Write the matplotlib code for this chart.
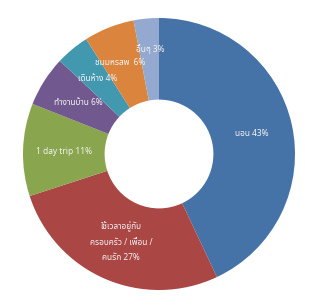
import matplotlib
matplotlib.use("Agg")
import matplotlib.pyplot as plt

categories = ["นอน", "ใช้เวลาอยู่กับ\nครอบครัว / เพื่อน /\nคนรัก", "1 day trip",
              "ทำงานบ้าน", "เดินห้าง", "ชมมหรสพ ", "อื่นๆ"]
values = [43, 27, 11, 6, 4, 6, 3]
colors = ["#4572A7", "#AA4643", "#89A54E", "#71588F", "#4198AF", "#DB843D", "#93A9CF"]

labels = [f"{c} {v}%" for c, v in zip(categories, values)]

# label nudges (pixels, right / up) to mimic the reference's collision avoidance
nudges = {4: (-1, 2), 5: (-4, 3), 6: (0, 10)}

fig = plt.figure(figsize=(3.26, 3.06), dpi=100)
W, H = 326, 306
cx, cy, R = 159, 154, 136
ax = fig.add_axes([(cx - R) / W, (H - cy - R) / H, 2 * R / W, 2 * R / H])
wedges, texts = ax.pie(values, colors=colors, labels=labels, startangle=90,
                       counterclock=False, radius=1.0, labeldistance=0.70,
                       wedgeprops=dict(width=0.60, linewidth=0),
                       textprops=dict(color="#f2f2f2", fontsize=6,
                                      family=["Noto Sans", "Noto Sans Thai UI"]))
for i, t in enumerate(texts):
    t.set_ha("center")
    t.set_va("center")
    t.set_multialignment("center")
    t.set_linespacing(1.9)
    if i in nudges:
        x, y = t.get_position()
        dx, dy = nudges[i]
        t.set_position((x + dx / R, y + dy / R))
ax.set_xlim(-1, 1)
ax.set_ylim(-1, 1)
ax.set_aspect("auto")
ax.axis("off")
fig.savefig("out.png", dpi=100)
